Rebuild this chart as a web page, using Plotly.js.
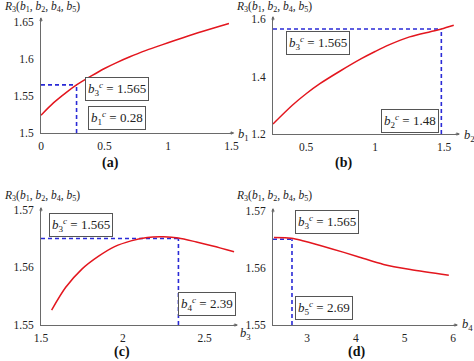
<!DOCTYPE html>
<html>
<head>
<meta charset="utf-8">
<script src="https://cdn.plot.ly/plotly-3.0.1.min.js"></script>
<style>html,body{margin:0;padding:0;background:#fff;}#chart{width:474px;height:361px;}</style>
</head>
<body>
<div id="chart"></div>
<script>
// ---- data ----
const aX = [0, 0.1, 0.2, 0.28, 0.4, 0.5, 0.6, 0.7, 0.8, 0.9, 1.0, 1.2, 1.4, 1.48];
const aY = [1.524, 1.541, 1.555, 1.565, 1.5775, 1.5872, 1.5955, 1.603, 1.610, 1.616, 1.622, 1.6335, 1.644, 1.648];
const bX = [0.26, 0.4, 0.5, 0.6, 0.75, 0.9, 1.0, 1.1, 1.25, 1.4, 1.48, 1.57];
const bY = [1.235, 1.30, 1.34, 1.375, 1.42, 1.462, 1.487, 1.51, 1.538, 1.556, 1.565, 1.578];
const cX = [1.565, 1.65, 1.75, 1.85, 1.95, 2.05, 2.15, 2.25, 2.34, 2.45, 2.55, 2.68];
const cY = [1.5526, 1.5565, 1.5597, 1.5619, 1.5636, 1.5646, 1.5652, 1.5653, 1.5651, 1.5644, 1.5637, 1.5627];
const dX = [2.32, 2.68, 2.93, 3.48, 4.03, 4.57, 5.12, 5.91];
const dY = [1.5653, 1.5652, 1.5647, 1.5634, 1.5620, 1.5606, 1.5597, 1.5587];

const b3c = 1.565;
const optX = [0.28, 1.48, 2.34, 2.69];      // dashed vertical positions
const optText = ["0.28", "1.48", "2.39", "2.69"];
const optIdx = ["1", "2", "4", "5"];
const xStart = [0, 0.26, 1.5, 2.3];
const yBase = [1.5, 1.2, 1.55, 1.55];

const xTicks = [[0, 0.5, 1, 1.5], [0.5, 1, 1.5], [1.5, 2, 2.5], [3, 4, 5, 6]];
const xTickText = [["0", "0.5", "1", "1.5"], ["0.5", "1", "1.5"], ["1.5", "2", "2.5"], ["3", "4", "5", "6"]];
const yTicks = [[1.5, 1.55, 1.6, 1.65], [1.2, 1.4, 1.6], [1.55, 1.56, 1.57], [1.55, 1.56, 1.57]];
const yTickText = [["1.5", "1.55", "1.6", "1.65"], ["1.2", "1.4", "1.6"], ["1.55", "1.56", "1.57"], ["1.55", "1.56", "1.57"]];
const xVarLabels = ["1", "2", "3", "4"];
const panelLabels = ["(a)", "(b)", "(c)", "(d)"];

// ---- layout geometry (pixels) ----
const W = 474, H = 361;
const PX = v => v / W, PY = v => 1 - v / H;
const geo = [
  {x0: 41, x1: 233.4, y0: 133, y1: 18.3, xr: [0, 1.515], yr: [1.5, 1.655]},
  {x0: 273, x1: 459, y0: 134, y1: 17, xr: [0.26, 1.608], yr: [1.2, 1.607]},
  {x0: 41, x1: 237, y0: 325, y1: 208, xr: [1.5, 2.698], yr: [1.55, 1.5703]},
  {x0: 273, x1: 457, y0: 325, y1: 209, xr: [2.3, 6.078], yr: [1.55, 1.5703]}
];
const varLabelDy = [2, 2, 9, 0];
const varLabelDx = [3, 3, 1, 3];
const titleY = [7, 7, 196, 196];
const box1 = [[116.5, 89.5], [317.5, 43.5], [81, 225], [327, 222]];
const box2 = [[116.5, 118.5], [410, 121], [206.5, 304], [324, 307.5]];
const panelPos = [[110, 163], [343, 163], [122, 352], [356, 352]];

const curves = [[aX, aY], [bX, bY], [cX, cY], [dX, dY]];
const RED = '#e3161e', BLUE = '#2a2ad6', AXC = '#6a6a6a';
const FONT = "'Liberation Serif', 'DejaVu Serif', serif";

const traces = [], annotations = [];
const layout = {
  width: W, height: H, margin: {l: 0, r: 0, t: 0, b: 0},
  paper_bgcolor: '#fff', plot_bgcolor: '#fff', showlegend: false,
  font: {family: FONT, size: 11, color: '#222'}
};

for (let i = 0; i < 4; i++) {
  const s = i === 0 ? '' : String(i + 1);
  const g = geo[i];
  const xa = 'x' + s, ya = 'y' + s;
  // dashed guides
  traces.push({x: [xStart[i], optX[i]], y: [b3c, b3c], xaxis: xa, yaxis: ya, mode: 'lines',
    line: {color: BLUE, width: 1.6, dash: '4px,3px'}, hoverinfo: 'skip', cliponaxis: false});
  traces.push({x: [optX[i], optX[i]], y: [yBase[i], b3c], xaxis: xa, yaxis: ya, mode: 'lines',
    line: {color: BLUE, width: 1.6, dash: '4px,3px'}, hoverinfo: 'skip', cliponaxis: false});
  // curve
  traces.push({x: curves[i][0], y: curves[i][1], xaxis: xa, yaxis: ya, mode: 'lines',
    line: {color: RED, width: 1.5, shape: 'spline', smoothing: 0.8}, hoverinfo: 'skip'});

  layout['xaxis' + s] = {
    domain: [PX(g.x0), PX(g.x1)], range: g.xr, anchor: ya,
    showline: true, linecolor: AXC, linewidth: 1, showgrid: false, zeroline: false,
    tickmode: 'array', tickvals: xTicks[i], ticktext: xTickText[i], ticks: '', ticklabelstandoff: 2,
    tickfont: {family: FONT, size: 11.5, color: '#222'}, fixedrange: true
  };
  layout['yaxis' + s] = {
    domain: [PY(g.y0), PY(g.y1)], range: g.yr, anchor: xa,
    showline: true, linecolor: AXC, linewidth: 1, showgrid: false, zeroline: false,
    tickmode: 'array', tickvals: yTicks[i], ticktext: yTickText[i], ticks: '', ticklabelstandoff: 4,
    tickfont: {family: FONT, size: 11.5, color: '#222'}, fixedrange: true
  };

  // arrowheads on axes
  annotations.push({xref: 'paper', yref: 'paper', x: PX(g.x1 + 1), y: PY(g.y0), ax: -6, ay: 0,
    text: '', showarrow: true, arrowhead: 2, arrowsize: 0.7, arrowwidth: 1, arrowcolor: AXC, standoff: 0});
  annotations.push({xref: 'paper', yref: 'paper', x: PX(g.x0), y: PY(g.y1 - 1), ax: 0, ay: 6,
    text: '', showarrow: true, arrowhead: 2, arrowsize: 0.7, arrowwidth: 1, arrowcolor: AXC, standoff: 0});
  // x variable label
  annotations.push({xref: 'paper', yref: 'paper', x: PX(g.x1 + varLabelDx[i]), y: PY(g.y0 + varLabelDy[i]), xanchor: 'left', yanchor: 'middle',
    text: '<i>b</i><sub>' + xVarLabels[i] + '</sub>', showarrow: false, font: {family: FONT, size: 12.5, color: '#222'}});
  // y title
  annotations.push({xref: 'paper', yref: 'paper', x: PX(g.x0 + 1), y: PY(titleY[i]), xanchor: 'center', yanchor: 'middle',
    text: '<i>R</i><sub>3</sub>(<i>b</i><sub>1</sub>, <i>b</i><sub>2</sub>, <i>b</i><sub>4</sub>, <i>b</i><sub>5</sub>)',
    showarrow: false, font: {family: FONT, size: 11.5, color: '#222'}});
  // boxes
  annotations.push({xref: 'paper', yref: 'paper', x: PX(box1[i][0]), y: PY(box1[i][1]), xanchor: 'center', yanchor: 'middle',
    text: '<i>b</i><sub>3</sub><sup><i>c</i></sup> = 1.565', showarrow: false,
    bordercolor: '#555', borderwidth: 1, borderpad: 2, bgcolor: '#fff', font: {family: FONT, size: 13, color: '#222'}});
  annotations.push({xref: 'paper', yref: 'paper', x: PX(box2[i][0]), y: PY(box2[i][1]), xanchor: 'center', yanchor: 'middle',
    text: '<i>b</i><sub>' + optIdx[i] + '</sub><sup><i>c</i></sup> = ' + optText[i], showarrow: false,
    bordercolor: '#555', borderwidth: 1, borderpad: 2, bgcolor: '#fff', font: {family: FONT, size: 13, color: '#222'}});
  // panel label
  annotations.push({xref: 'paper', yref: 'paper', x: PX(panelPos[i][0]), y: PY(panelPos[i][1]), xanchor: 'center', yanchor: 'middle',
    text: '<b>' + panelLabels[i] + '</b>', showarrow: false, font: {family: FONT, size: 14, color: '#111'}});
}
layout.annotations = annotations;

Plotly.newPlot('chart', traces, layout, {displayModeBar: false, staticPlot: true});
</script>
</body>
</html>
